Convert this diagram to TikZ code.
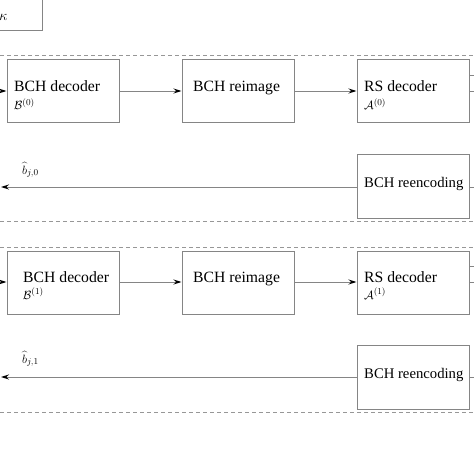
\documentclass[tikz,border=0pt]{standalone}
\usepackage{fontspec}
\setmainfont{Liberation Serif}
\usetikzlibrary{arrows.meta}
\definecolor{ln}{HTML}{858585}
\tikzset{
  blk/.style={draw=ln, line width=1pt, rectangle, inner sep=0pt, minimum width=112pt},
  conn/.style={draw=ln, line width=1pt, -{Stealth[length=8pt,width=5pt,black]}},
  plain/.style={draw=ln, line width=1pt},
  sep/.style={draw=ln!85, line width=0.9pt, dash pattern=on 4pt off 3pt},
  txt/.style={anchor=base west, inner sep=0pt, font=\fontsize{15.7}{18}\selectfont},
  rtxt/.style={anchor=base west, inner sep=0pt, font=\fontsize{14.7}{17}\selectfont},
  mtxt/.style={anchor=base west, inner sep=0pt, font=\fontsize{13}{15}\selectfont},
}
\begin{document}
\begin{tikzpicture}[x=1pt,y=-1pt]
\useasboundingbox (0,0) rectangle (474,474);
% top-left partial box
\node[draw=ln, line width=1pt, inner sep=0pt, minimum width=44pt, minimum height=32pt] (tl) at (20,14) {};
\node[inner sep=0pt, font=\fontsize{15}{17}\selectfont] (tlt) at (3.5,17) {$\kappa$};

% separators
\coordinate (s0a) at (0,55);  \coordinate (s0b) at (474,55);
\coordinate (s1a) at (0,221); \coordinate (s1b) at (474,221);
\coordinate (s2a) at (0,247); \coordinate (s2b) at (474,247);
\coordinate (s3a) at (0,412); \coordinate (s3b) at (474,412);
\draw[sep] (s0a) -- (s0b);
\draw[sep] (s1a) -- (s1b);
\draw[sep] (s2a) -- (s2b);
\draw[sep] (s3a) -- (s3b);

% ---------- group 0 ----------
\node[blk, minimum height=63pt] (dec0) at (63,90.5) {};
\node[blk, minimum height=63pt] (rei0) at (238,90.5) {};
\node[blk, minimum height=63pt] (rs0) at (413,90.5) {};
\node[blk, minimum height=64pt] (ren0) at (413,186) {};
\node[txt] (dec0t) at (14,91.5) {BCH decoder};
\node[mtxt] (dec0m) at (14,109.5) {$\mathcal{B}^{(0)}$};
\node[txt] (rei0t) at (193,91.5) {BCH reimage};
\node[txt] (rs0t) at (364,91.5) {RS decoder};
\node[mtxt] (rs0m) at (364,109.5) {$\mathcal{A}^{(0)}$};
\node[rtxt] (ren0t) at (364,187) {BCH reencoding};
\node[anchor=base west, inner sep=0pt, font=\fontsize{13}{15}\selectfont] (b0) at (22,174) {$\widehat{b}_{j,0}$};

\coordinate (in0) at (-2,91);
\coordinate (o0) at (1,187);
\coordinate (r0a) at (474,75);
\coordinate (r0b) at (474,91);
\coordinate (r0c) at (474,187);
\draw[conn] (in0) -- (dec0.west |- in0);
\draw[conn] (dec0.east |- in0) -- (rei0.west |- in0);
\draw[conn] (rei0.east |- in0) -- (rs0.west |- in0);
\draw[plain] (rs0.east |- r0a) -- (r0a);
\draw[plain] (rs0.east |- r0b) -- (r0b);
\draw[plain] (ren0.east |- r0c) -- (r0c);
\draw[conn] (ren0.west |- o0) -- (o0);

% ---------- group 1 ----------
\node[blk, minimum height=63pt] (dec1) at (63,282.5) {};
\node[blk, minimum height=63pt] (rei1) at (238,282.5) {};
\node[blk, minimum height=63pt] (rs1) at (413,282.5) {};
\node[blk, minimum height=64pt] (ren1) at (413,377) {};
\node[txt] (dec1t) at (23,282.5) {BCH decoder};
\node[mtxt] (dec1m) at (23,299) {$\mathcal{B}^{(1)}$};
\node[txt] (rei1t) at (193,282.5) {BCH reimage};
\node[txt] (rs1t) at (364,282.5) {RS decoder};
\node[mtxt] (rs1m) at (364,299) {$\mathcal{A}^{(1)}$};
\node[rtxt] (ren1t) at (364,378) {BCH reencoding};
\node[anchor=base west, inner sep=0pt, font=\fontsize{13}{15}\selectfont] (b1) at (22,363) {$\widehat{b}_{j,1}$};

\coordinate (in1) at (-2,282);
\coordinate (o1) at (1,377);
\coordinate (r1a) at (474,266);
\coordinate (r1b) at (474,282);
\coordinate (r1c) at (474,377);
\draw[conn] (in1) -- (dec1.west |- in1);
\draw[conn] (dec1.east |- in1) -- (rei1.west |- in1);
\draw[conn] (rei1.east |- in1) -- (rs1.west |- in1);
\draw[plain] (rs1.east |- r1a) -- (r1a);
\draw[plain] (rs1.east |- r1b) -- (r1b);
\draw[plain] (ren1.east |- r1c) -- (r1c);
\draw[conn] (ren1.west |- o1) -- (o1);
\end{tikzpicture}
\end{document}
